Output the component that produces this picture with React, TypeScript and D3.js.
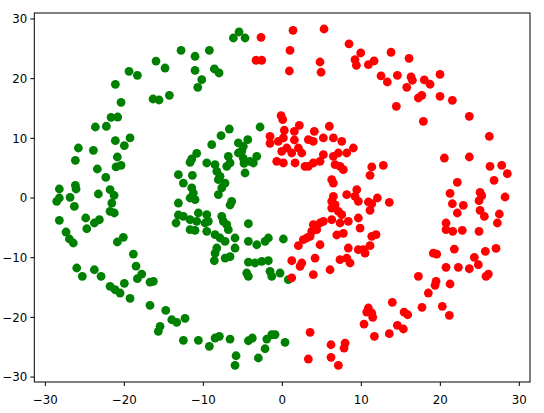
import React from "react";
import * as d3 from "d3";

const greenX = [
  -12.82,-11.05,-15.99,-14.85,-11.05,-19.41,-18.35,-21.14,-16.37,-15.61,-14.30,-20.42,-21.68,-20.84,-23.67,-22.28,
  -9.24,-8.61,-8.01,-10.20,-10.71,-6.20,-5.48,-4.72,-6.71,-2.82,
  -21.14,-19.28,-20.0,-25.82,-23.92,-26.20,-20.89,-21.05,-20.42,-23.42,-22.35,-28.23,-26.20,-26.11,-23.29,-21.81,-21.30,-28.56,-28.23,-26.87,-26.33,-21.59,-21.81,-21.27,-28.23,-24.89,-23.80,-23.16,-24.76,-27.38,-26.96,-26.46,-20.89,-20.13,-18.86,
  -13.16,-11.39,-12.53,-11.47,-11.68,-11.47,-11.27,-11.68,-11.05,-13.16,-13.46,-12.53,-11.68,-10.84,-11.68,-11.05,-13.16,
  -7.76,-4.38,-8.94,-5.57,-4.94,-5.14,-5.57,-3.24,-3.67,-4.09,-10.84,-9.57,-6.84,-6.62,-7.04,-8.52,-8.30,-7.89,-8.10,-7.25,-7.67,-8.10,-4.72,-6.41,-6.62,-10.63,-9.57,-9.37,-9.78,-7.67,-7.47,-7.04,-6.84,-9.57,-8.52,-7.89,-7.25,-5.99,-4.30,-8.30,-8.52,-5.99,-4.30,-3.24,-2.19,-1.77,0.13,-4.94,-4.85,
  -8.61,-7.25,-6.62,-4.30,-3.46,-2.61,-1.77,-4.51,-4.30,-1.56,-1.34,-0.29,0.76,
  -26.03,-25.32,-23.80,-22.95,-21.81,-21.18,-20.54,-20.0,-19.28,-18.52,-17.80,-18.35,-16.33,-16.75,-16.75,-14.76,-14.0,-13.37,-12.32,-15.48,-15.70,-12.53,-10.63,
  -9.24,-8.52,-7.97,-6.62,-5.86,-5.99,-4.30,-3.80,-3.04,-2.19,-1.97,-1.34,-0.92,0.34
];
const greenY = [
  24.75,23.75,22.95,21.78,21.40,21.23,20.56,19.05,16.59,16.42,17.21,16.04,13.52,13.57,11.90,12.02,
  24.75,21.62,20.95,19.83,18.55,26.81,27.82,26.81,11.56,11.90,
  9.60,10.06,8.77,8.38,7.99,6.32,6.87,5.20,5.48,4.86,3.47,1.51,2.13,1.51,0.67,1.39,0.45,-0.55,0,0.12,-1.39,-0.84,-2.23,-2.51,-3.74,-3.35,-4.19,-3.64,-5.15,-5.70,-6.87,-7.54,-7.37,-6.59,-9.39,
  3.90,3.80,2.51,6.54,5.98,1.68,0.84,0,-0.28,-0.84,-4.19,-3.07,-3.64,-3.90,-5.31,-5.41,-2.85,
  10.44,9.77,8.93,9.22,8.66,7.83,7.54,6.99,5.87,6.15,7.49,5.87,6.99,5.87,5.31,5.58,4.47,3.64,3.07,2.51,1.68,0.55,4.19,-0.55,-1.17,-2.51,-2.80,-3.90,-4.19,-3.07,-3.90,-4.47,-5.31,-5.58,-6.15,-6.70,-7.26,-6.70,-4.31,-8.38,-9.22,-8.38,-7.26,-7.83,-7.26,-6.70,-6.87,6.65,5.82,
  -10.51,-10.06,-9.84,-10.73,-10.89,-10.61,-10.51,-12.57,-13.12,-12.28,-13.12,-12.57,-13.69,
  -11.73,-13.12,-12.02,-13.12,-14.80,-15.37,-15.92,-14.30,-16.81,-11.40,-12.74,-13.52,-13.96,-14.08,-17.98,-18.82,-20.40,-20.83,-20.16,-21.50,-22.34,-23.85,-23.85,
  -24.85,-23.46,-23.18,-23.63,-26.43,-28.04,-23.92,-23.46,-26.81,-25.26,-23.63,-22.91,-22.91,-24.18
];

const redX = [
  -2.70,1.35,5.28,0.97,-3.33,-2.61,0.89,4.77,4.90,8.44,9.92,9.20,9.37,-0.16,0.05,0.25,2.15,1.52,4.05,5.95,
  10.89,11.61,13.76,16.04,12.49,13.29,14.56,16.29,16.46,15.75,17.97,18.70,19.96,17.65,17.22,19.96,21.52,14.43,17.85,23.67,
  -1.56,-0.51,0.13,-0.08,0.56,1.19,2.03,2.46,-0.71,0.13,1.61,3.29,2.87,3.92,4.77,5.19,3.29,3.92,5.19,6.46,7.52,8.99,8.15,7.09,6.46,6.67,7.30,7.72,6.25,6.46,9.42,9.20,8.15,9.62,6.46,6.25,6.67,6.25,7.09,7.52,6.25,7.30,8.35,9.62,9.84,3.92,4.77,5.19,4.35,3.72,3.51,3.09,2.66,4.77,8.35,9.62,
  -1.56,1.52,2.03,6.89,7.72,
  1.19,2.24,2.46,3.92,6.04,4.14,7.30,8.57,8.15,1.19,
  26.20,20.51,23.67,26.29,27.77,28.48,26.80,22.15,21.23,25.03,25.24,24.90,28.19,21.52,22.91,22.15,25.03,25.57,27.47,27.22,20.72,20.72,21.57,22.78,24.90,19.11,19.54,21.77,24.30,25.70,27.05,
  11.32,12.78,11.10,10.89,11.32,12.03,13.54,11.10,11.32,11.86,11.10,10.25,10.47,
  20.72,22.28,23.67,24.81,25.78,26.08,17.22,19.46,19.33,21.23,18.48,13.92,17.68,20.25,21.14,10.89,10.68,11.32,11.44,10.34,15.41,15.87,14.56,15.32,13.54,11.65,
  3.51,3.29,6.16,7.94,7.81,6.16,7.09
];
const redY = [
  26.93,28.1,28.32,24.75,23.08,23.08,21.28,22.79,21.07,25.81,24.30,23.18,22.24,13.79,13.12,11.35,12.18,11.18,11.18,12.02,
  22.34,22.96,24.42,23.41,20.45,19.44,20.56,20.28,19.73,18.55,19.78,19.06,20.73,17.21,16.76,17.04,16.37,15.37,12.85,13.69,
  10.34,9.50,10.06,7.83,8.38,7.54,8.38,7.54,6.15,5.87,5.87,5.31,5.31,5.87,6.15,7.26,9.77,9.50,10.06,10.06,9.50,8.38,7.54,7.54,6.99,5.58,5.31,4.74,3.07,2.51,1.39,0.28,0.55,-0.55,0.28,-0.55,-1.12,-1.68,-2.23,-2.80,-3.64,-4.19,-3.90,-3.35,-5.03,-4.47,-4.19,-3.90,-5.31,-5.58,-6.42,-6.70,-6.99,-7.83,-8.38,-8.66,
  9.16,9.72,-7.99,-6.20,-5.92,
  -10.51,-11.45,-10.89,-12.85,-12.02,-10.06,-10.34,-10.89,-10.06,-13.37,
  10.34,6.70,6.87,5.31,5.48,4.07,2.97,2.63,0.79,0.96,0.39,-0.45,0.17,-0.96,-1.22,-2.51,-2.06,-3.07,-2.68,-4.19,-4.19,-5.31,-5.58,-5.41,-5.58,-9.22,-9.39,-8.55,-9.94,-8.93,-8.43,
  5.20,5.48,3.80,-0.67,-0.96,0,-0.72,-2.06,-6.42,-6.15,-7.99,-8.66,-9.22,
  -11.61,-11.61,-11.85,-11.18,-13.12,-12.74,-13.12,-13.96,-14.63,-14.41,-15.92,-17.48,-18.32,-18.15,-19.66,-18.43,-19.11,-19.27,-19.99,-21.12,-19.11,-19.56,-21.33,-21.95,-22.74,-23.18,
  -22.51,-26.98,-24.59,-24.30,-25.14,-26.70,-28.04
];

const xTicks = [-30, -20, -10, 0, 10, 20, 30];
const yTicks = [-30, -20, -10, 0, 10, 20, 30];

const W = 544, H = 413;
const L = 34.3, R = 530, T = 13, B = 382;

const fmt = (v: number) => (v < 0 ? "\u2212" + Math.abs(v) : String(v));

export default function App() {
  const x = d3.scaleLinear().domain([-31.4, 31.35]).range([L, R]);
  const y = d3.scaleLinear().domain([-30.83, 31.0]).range([B, T]);
  const green = greenX.map((v, i) => [v, greenY[i]]);
  const red = redX.map((v, i) => [v, redY[i]]);
  const font = "'DejaVu Sans', sans-serif";
  return (
    <svg width={W} height={H} style={{ position: "absolute", left: 0, top: 0, background: "#fff" }}>
      <rect x={0} y={0} width={W} height={H} fill="#fff" />
      <g>
        {green.map((p, i) => (
          <circle key={"g" + i} cx={x(p[0])} cy={y(p[1])} r={4.4} fill="green" />
        ))}
        {red.map((p, i) => (
          <circle key={"r" + i} cx={x(p[0])} cy={y(p[1])} r={4.4} fill="red" />
        ))}
      </g>
      <rect x={L} y={T} width={R - L} height={B - T} fill="none" stroke="#000" strokeWidth={1} />
      {xTicks.map((t) => (
        <g key={"xt" + t}>
          <line x1={x(t)} x2={x(t)} y1={B} y2={B + 4} stroke="#000" strokeWidth={1} />
          <text x={x(t)} y={B + 21.5} textAnchor="middle" fontFamily={font} fontSize={11.8} fill="#000">
            {fmt(t)}
          </text>
        </g>
      ))}
      {yTicks.map((t) => (
        <g key={"yt" + t}>
          <line x1={L - 4} x2={L} y1={y(t)} y2={y(t)} stroke="#000" strokeWidth={1} />
          <text x={L - 7} y={y(t) + 4.3} textAnchor="end" fontFamily={font} fontSize={11.8} fill="#000">
            {fmt(t)}
          </text>
        </g>
      ))}
    </svg>
  );
}
